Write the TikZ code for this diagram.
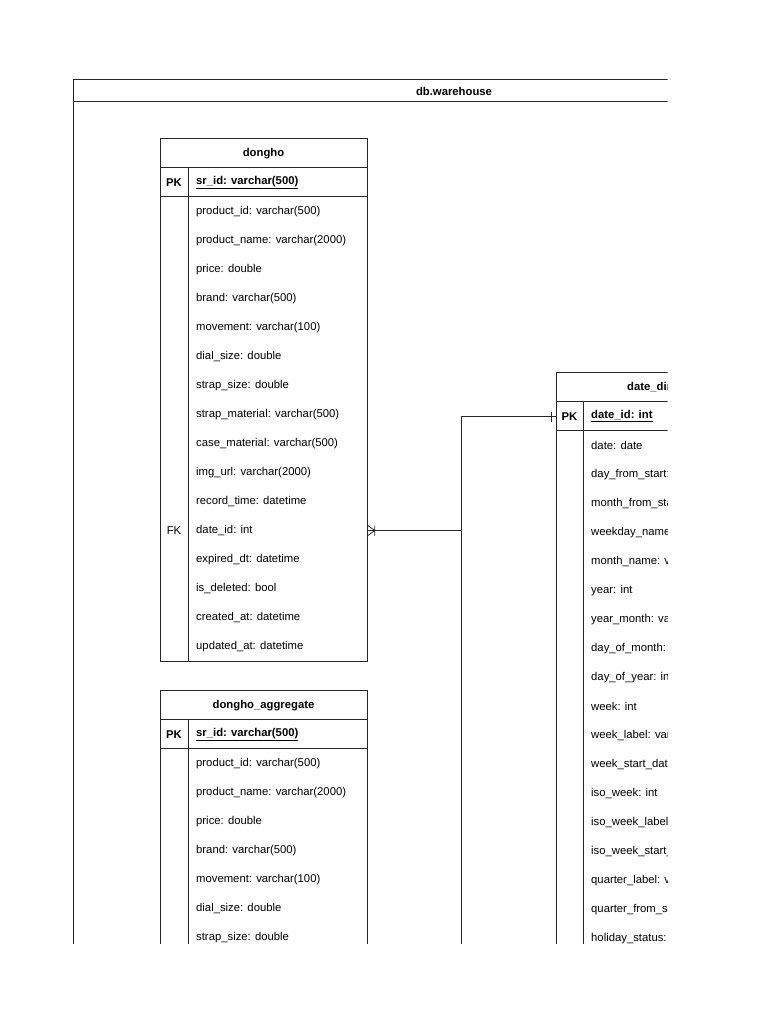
\documentclass[tikz,border=0pt]{standalone}
\usepackage{fontspec}
\setmainfont{Liberation Sans}
\usepackage{tikz}
\newcommand\erfont{\fontsize{11.3}{13}\selectfont}

\begin{document}
\begin{tikzpicture}[x=1pt,y=-1pt,
        erline/.style={draw=black!85, line width=0.8pt},
        tblbox/.style={erline, anchor=north west, inner sep=0pt},
        tbltitle/.style={font=\erfont\bfseries, inner sep=0pt},
        field/.style={font=\erfont, anchor=west, inner sep=0pt},
        keytag/.style={font=\erfont, inner sep=0pt}]
    \useasboundingbox (0,0) rectangle (768,1024);
    \clip (0,0) rectangle (667.5,943);
    % outer container
    \draw[erline] (73,1000) -- (73,79) -- (835,79) -- (835,1000);
    \draw[erline] (73,101) -- (835,101);
    \node[tbltitle] (warehouse) at (454,91) {db.warehouse};

    % table dongho
    \node[tblbox, minimum width=207, minimum height=523] (dongho) at (160,138) {};
    \draw[erline] (160,167) -- (367,167) (160,196) -- (367,196) (188,167) -- (188,661);
    \node[tbltitle] (dongho-title) at (263.5,153.5) {dongho};
    \node[keytag, font=\erfont\bfseries] (dongho-pktag) at (174,182.5) {PK};
    \node[field, font=\erfont\bfseries] (dongho-pk) at (196,182.5) {\underline{sr\_id: varchar(500)}};
    \foreach \f [count=\i] in {product\_id: varchar(500), product\_name: varchar(2000),
        price: double, brand: varchar(500), movement: varchar(100), dial\_size: double,
        strap\_size: double, strap\_material: varchar(500), case\_material: varchar(500),
        img\_url: varchar(2000), record\_time: datetime, date\_id: int,
        expired\_dt: datetime, is\_deleted: bool, created\_at: datetime,
        updated\_at: datetime}
        \node[field] (dongho-\i) at (196,{182.5+29*\i}) {\f};
    \node[keytag] (dongho-fktag) at (174,530.5) {FK};

    % table dongho_aggregate
    \node[tblbox, minimum width=207, minimum height=523] (agg) at (160,690) {};
    \draw[erline] (160,719) -- (367,719) (160,748) -- (367,748) (188,719) -- (188,1213);
    \node[tbltitle] (agg-title) at (263.5,705.5) {dongho\_aggregate};
    \node[keytag, font=\erfont\bfseries] (agg-pktag) at (174,734.5) {PK};
    \node[field, font=\erfont\bfseries] (agg-pk) at (196,734.5) {\underline{sr\_id: varchar(500)}};
    \foreach \f [count=\i] in {product\_id: varchar(500), product\_name: varchar(2000),
        price: double, brand: varchar(500), movement: varchar(100), dial\_size: double,
        strap\_size: double}
        \node[field] (agg-\i) at (196,{734.5+29*\i}) {\f};

    % table date_dim
    \node[tblbox, minimum width=192, minimum height=640] (datedim) at (556,372) {};
    \draw[erline] (556,401) -- (748,401) (556,430) -- (748,430) (583,401) -- (583,1012);
    \node[tbltitle] (datedim-title) at (652,387.5) {date\_dim};
    \node[keytag, font=\erfont\bfseries] (datedim-pktag) at (569.5,416.5) {PK};
    \node[field, font=\erfont\bfseries] (datedim-pk) at (591,416.5) {\underline{date\_id: int}};
    \foreach \f [count=\i] in {date: date, day\_from\_start: int, month\_from\_start: int,
        weekday\_name: varchar(20), month\_name: varchar(20), year: int,
        year\_month: varchar(20), day\_of\_month: int, day\_of\_year: int, week: int,
        week\_label: varchar(20), week\_start\_date: date, iso\_week: int,
        iso\_week\_label: varchar(20), iso\_week\_start\_date: date,
        quarter\_label: varchar(20), quarter\_from\_start: int, holiday\_status: varchar(20)}
        \node[field] (datedim-\i) at (591,{416.5+29*\i}) {\f};

    % relations
    \coordinate (agg-fk) at (461,1000);
    \draw[erline] (dongho.east |- dongho-12) -- ++(94,0) |- (datedim.west |- datedim-pk);
    \draw[erline] (agg-fk) |- (datedim.west |- datedim-pk);
    % many end at dongho, one end at date_dim
    \draw[erline] (dongho.east |- dongho-12) ++(0,-5) -- ++(7,5) -- ++(-7,5)
        (dongho.east |- dongho-12) ++(7,-5) -- ++(0,10);
    \draw[erline] (datedim.west |- datedim-pk) ++(-5,-5) -- ++(0,10);
\end{tikzpicture}
\end{document}
